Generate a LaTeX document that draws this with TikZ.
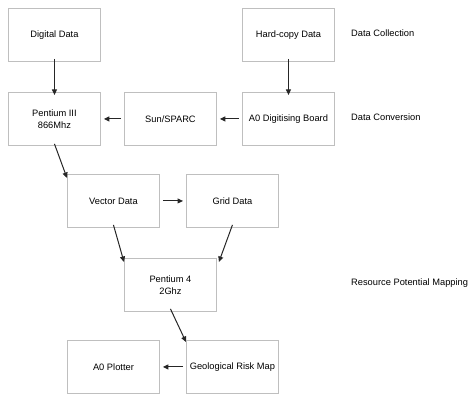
\documentclass[tikz,border=0pt]{standalone}
\usepackage{fontspec}
\setmainfont{Liberation Sans}
\usetikzlibrary{arrows.meta}
\begin{document}
\begin{tikzpicture}[x=1pt,y=-1pt,
  box/.style={draw=black!25,line width=0.9pt,minimum width=92pt,minimum height=53pt,inner sep=0pt,align=center,font=\fontsize{9.3}{11.5}\selectfont,anchor=north west},
  lab/.style={anchor=west,inner sep=0pt,font=\fontsize{9.3}{11.5}\selectfont},
  arr/.style={draw=black!85,line width=1pt,-{Triangle[length=5.5pt,width=5pt]}}]
\useasboundingbox (0,0) rectangle (474,401);
\node[box] (dd) at (8,8) {Digital Data};
\node[box] (hc) at (242,8) {Hard-copy Data};
\node[box] (p3) at (8,92) {Pentium III\\866Mhz};
\node[box] (sun) at (124,92) {Sun/SPARC};
\node[box] (a0d) at (242,92) {A0 Digitising Board};
\node[box] (vd) at (67,174) {Vector Data};
\node[box] (gd) at (186,174) {Grid Data};
\node[box] (p4) at (124,258) {Pentium 4\\2Ghz};
\node[box] (a0p) at (67,340) {A0 Plotter};
\node[box] (geo) at (186,340) {Geological Risk Map};
\node[lab] (l1) at (351,33) {Data Collection};
\node[lab] (l2) at (351,117) {Data Conversion};
\node[lab] (l3) at (351,283) {Resource Potential Mapping};
\draw[arr] ([yshift=3pt]dd.south) -- ([yshift=-3pt]p3.north);
\draw[arr] ([yshift=3pt]hc.south) -- ([yshift=-3pt]a0d.north);
\draw[arr] ([xshift=-3pt]a0d.west) -- ([xshift=3pt]sun.east);
\draw[arr] ([xshift=-3pt]sun.west) -- ([xshift=3pt]p3.east);
\draw[arr] ([xshift=3pt]vd.east) -- ([xshift=-3pt]gd.west);
\draw[arr] ([xshift=-3pt]geo.west) -- ([xshift=3pt]a0p.east);
\draw[arr] ([yshift=2pt]p3.south) -- ([yshift=-4pt]vd.north west);
\draw[arr] ([yshift=3pt]vd.south) -- ([yshift=-4pt]p4.north west);
\draw[arr] ([yshift=3pt]gd.south) -- ([xshift=2pt,yshift=-4pt]p4.north east);
\draw[arr] ([yshift=3pt]p4.south) -- ([yshift=-2pt]geo.north west);
\end{tikzpicture}
\end{document}
